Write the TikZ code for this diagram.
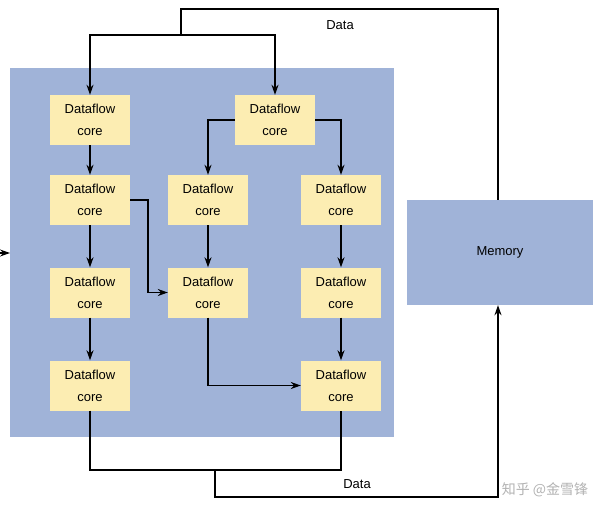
\documentclass[tikz,border=0pt]{standalone}
\usepackage{fontspec}
\setmainfont{Liberation Sans}
\newfontfamily\cjk{Noto Sans CJK SC}
\usetikzlibrary{arrows.meta}
\definecolor{bg}{HTML}{A0B3D8}
\definecolor{corefill}{HTML}{FCEDB2}
\begin{document}
\begin{tikzpicture}[x=1pt,y=-1pt,
  core/.style={fill=corefill,minimum width=80pt,minimum height=50pt,align=center,inner sep=0pt,font=\fontsize{13}{22}\selectfont},
  ar/.style={-{Stealth[length=10pt,width=7pt]},line width=1.2pt},
  ln/.style={line width=1.2pt}]
\useasboundingbox (0,0) rectangle (600,514);
\fill[bg] (10,68) rectangle (394,437);
\node[fill=bg,minimum width=186pt,minimum height=105pt,font=\fontsize{13}{15}\selectfont] (mem) at (500,252.5) {Memory};
\node[core] (a1) at (90,120) {Dataflow\\core};
\node[core] (a2) at (90,200) {Dataflow\\core};
\node[core] (a3) at (90,292.5) {Dataflow\\core};
\node[core] (a4) at (90,385.5) {Dataflow\\core};
\node[core] (b1) at (275,120) {Dataflow\\core};
\node[core] (c2) at (208,200) {Dataflow\\core};
\node[core] (c3) at (208,292.5) {Dataflow\\core};
\node[core] (d2) at (341,200) {Dataflow\\core};
\node[core] (d3) at (341,292.5) {Dataflow\\core};
\node[core] (d4) at (341,385.5) {Dataflow\\core};
\coordinate (j1) at (181,35);
\coordinate (lin) at (0,253);
\draw[ln] ([xshift=-2pt]mem.north) -- (498,9) -| (j1);
\draw[ar] (j1) -| (a1.north);
\draw[ar] (j1) -| (b1.north);
\draw[ar] (a1) -- (a2);
\draw[ar] (a2) -- (a3);
\draw[ar] (a3) -- (a4);
\draw[ar] (b1.west) -| (c2.north);
\draw[ar] (b1.east) -| (d2.north);
\draw[ar] (c2) -- (c3);
\draw[ar] (d2) -- (d3);
\draw[ar] (d3) -- (d4);
\draw[ar] (a2.east) -- (148,200) |- (c3.west);
\draw[ar] (c3.south) |- (d4.west);
\draw[ln] (a4.south) |- (d4.south |- 0,470) -- (d4.south);
\draw[ar] (215,470) |- (498,497) -- ([xshift=-2pt]mem.south);
\draw[ar] (lin) -- (10,253);
\node[font=\fontsize{13}{15}\selectfont] (t1) at (340,25) {Data};
\node[font=\fontsize{13}{15}\selectfont] (t2) at (357,484) {Data};
\node[font=\cjk\fontsize{14}{16}\selectfont,text=gray!60] (wm) at (545,490) {知乎 @金雪锋};
\end{tikzpicture}
\end{document}
